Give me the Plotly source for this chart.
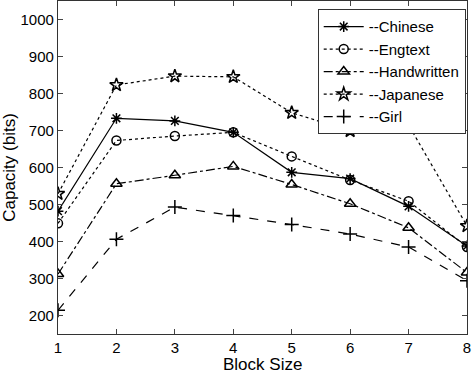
import plotly.graph_objects as go

block_size = [1, 2, 3, 4, 5, 6, 7, 8]
chinese = [482, 733, 726, 695, 587, 570, 495, 388]
engtext = [449, 673, 685, 695, 630, 566, 509, 385]
handwritten = [312, 556, 579, 603, 554, 502, 437, 316]
japanese = [529, 823, 847, 845, 748, 699, 715, 442]
girl = [214, 406, 493, 470, 446, 420, 385, 294]

series = [
    ("--Chinese", chinese, "solid", "asterisk-open", 9),
    ("--Engtext", engtext, "dot", "circle-open", 9),
    ("--Handwritten", handwritten, "dashdot", "triangle-up-open", 10),
    ("--Japanese", japanese, "dot", "star-open", 10),
    ("--Girl", girl, "dash", "cross-thin-open", 10),
]

fig = go.Figure()
for name, vals, dash, sym, sz in series:
    fig.add_trace(go.Scatter(
        x=block_size, y=vals, name=name, mode="lines+markers",
        line=dict(color="black", width=1.2, dash=dash),
        marker=dict(symbol=sym, size=sz, color="black",
                    line=dict(color="black", width=1.5)),
    ))

font = "Liberation Sans, Arial, sans-serif"
fig.update_layout(
    width=474, height=373,
    margin=dict(l=58, r=7, t=1, b=39, autoexpand=False),
    paper_bgcolor="white", plot_bgcolor="white",
    font=dict(family=font, size=15, color="black"),
    showlegend=True,
    legend=dict(x=0.635, y=0.975, xanchor="left", yanchor="top",
                bordercolor="#333", borderwidth=1, bgcolor="white",
                font=dict(size=15), tracegroupgap=0, itemwidth=40),
    annotations=[dict(text="Block Size", xref="paper", yref="paper",
                      x=0.5, y=0, xanchor="center", yanchor="middle",
                      yshift=-30, showarrow=False, font=dict(size=17))],
)
fig.update_xaxes(
    range=[1, 8], tickvals=block_size, ticks="inside", ticklen=5,
    showline=True, linecolor="#333", linewidth=1.2, mirror="ticks",
    showgrid=False, zeroline=False,
)
fig.update_yaxes(
    range=[150, 1050], tickvals=[200, 300, 400, 500, 600, 700, 800, 900, 1000],
    ticks="inside", ticklen=5,
    showline=True, linecolor="#333", linewidth=1.2, mirror="ticks",
    showgrid=False, zeroline=False,
    title=dict(text="Capacity (bits)", font=dict(size=17), standoff=4),
)
fig.write_html("out.html", config={"displayModeBar": False},
               post_script="document.body.style.margin='0';document.body.style.overflow='hidden';")
